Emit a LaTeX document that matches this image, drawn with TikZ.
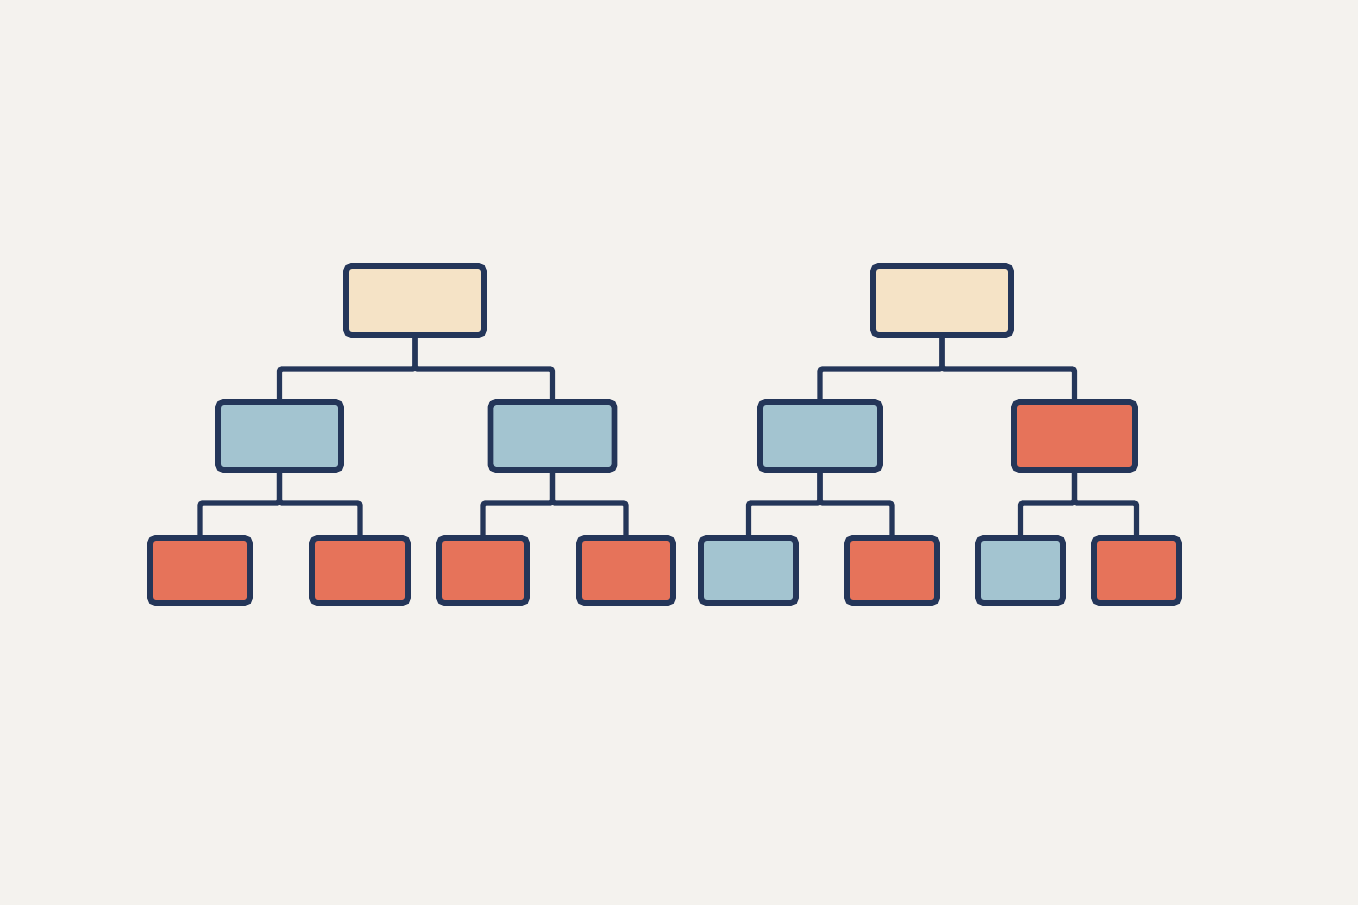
\documentclass[tikz,border=0pt]{standalone}
\usepackage{tikz}
\definecolor{paper}{HTML}{F4F2EE}
\definecolor{navy}{HTML}{243659}
\definecolor{cream}{HTML}{F5E3C6}
\definecolor{sky}{HTML}{A3C4D0}
\definecolor{coral}{HTML}{E6735A}

\begin{document}
\begin{tikzpicture}[x=0.02cm,y=-0.02cm,
    box/.style={draw=navy,line width=3.3pt,rounded corners=3pt,inner sep=0pt,
      minimum height=65*0.02cm},
    link/.style={draw=navy,line width=3.1pt,rounded corners=1.5pt}]
  \fill[paper] (0,0) rectangle (1358,905);

  % left tree
  \node[box,fill=cream,minimum width=138*0.02cm,minimum height=69*0.02cm] (rootL) at (415,300.5) {};
  \node[box,fill=sky,minimum width=123*0.02cm,minimum height=68*0.02cm] (midLa) at (279.5,436) {};
  \node[box,fill=sky,minimum width=124*0.02cm,minimum height=68*0.02cm] (midLb) at (552.5,436) {};
  \node[box,fill=coral,minimum width=100*0.02cm] (leafLa) at (200,570.5) {};
  \node[box,fill=coral,minimum width=96*0.02cm] (leafLb) at (360,570.5) {};
  \node[box,fill=coral,minimum width=88*0.02cm] (leafLc) at (483,570.5) {};
  \node[box,fill=coral,minimum width=94*0.02cm] (leafLd) at (626,570.5) {};

  % right tree
  \node[box,fill=cream,minimum width=138*0.02cm,minimum height=69*0.02cm] (rootR) at (942,300.5) {};
  \node[box,fill=sky,minimum width=120*0.02cm,minimum height=68*0.02cm] (midRa) at (820,436) {};
  \node[box,fill=coral,minimum width=121*0.02cm,minimum height=68*0.02cm] (midRb) at (1074.5,436) {};
  \node[box,fill=sky,minimum width=95*0.02cm] (leafRa) at (748.5,570.5) {};
  \node[box,fill=coral,minimum width=90*0.02cm] (leafRb) at (892,570.5) {};
  \node[box,fill=sky,minimum width=85*0.02cm] (leafRc) at (1020.5,570.5) {};
  \node[box,fill=coral,minimum width=85*0.02cm] (leafRd) at (1136.5,570.5) {};

  \coordinate (barA) at (0,369);
  \coordinate (barB) at (0,503);

  \foreach \p/\c in {rootL/midLa,rootL/midLb,rootR/midRa,rootR/midRb}
    \draw[link] (\p.south) -- (\p.south |- barA) -| (\c.north);
  \foreach \p/\c in {midLa/leafLa,midLa/leafLb,midLb/leafLc,midLb/leafLd,
                     midRa/leafRa,midRa/leafRb,midRb/leafRc,midRb/leafRd}
    \draw[link] (\p.south) -- (\p.south |- barB) -| (\c.north);
\end{tikzpicture}
\end{document}
